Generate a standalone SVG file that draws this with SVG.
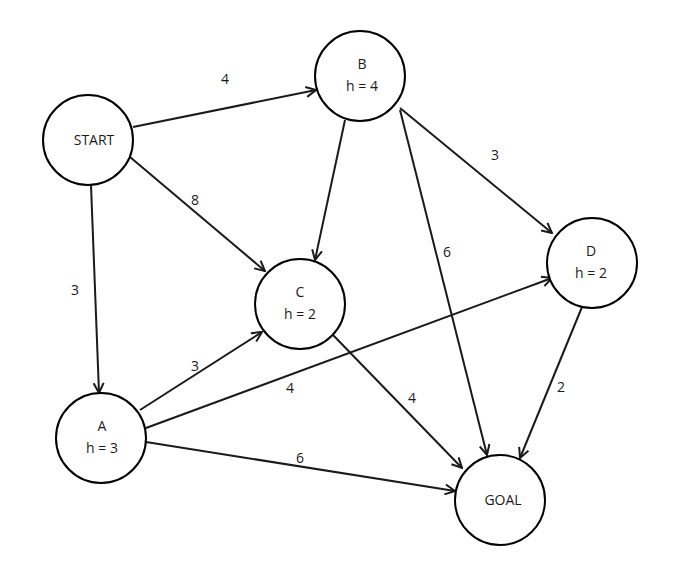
<svg xmlns="http://www.w3.org/2000/svg" width="674" height="561" viewBox="0 0 674 561">
<style>
circle{fill:#fff;stroke:#000;stroke-width:2}
text{font-family:"Open Sans","Liberation Sans",sans-serif;font-size:14px;fill:#1a1a1a;text-anchor:middle}
#edges line{stroke:#1a1a1a;stroke-width:2;marker-end:url(#ah)}
</style>
<defs><marker id="ah" viewBox="0 0 12 12" refX="11" refY="6" markerWidth="12" markerHeight="12" markerUnits="userSpaceOnUse" orient="auto"><polyline points="1,1 11,6 1,11" fill="none" stroke="#1a1a1a" stroke-width="2"/></marker></defs>
<rect width="674" height="561" fill="#fff"/>
<g id="edges">
<line x1="133" y1="127" x2="316" y2="90"/>
<line x1="130" y1="157" x2="265" y2="271"/>
<line x1="91" y1="185" x2="99" y2="393"/>
<line x1="345" y1="120" x2="315" y2="260"/>
<line x1="400" y1="110" x2="487" y2="455"/>
<line x1="400" y1="108" x2="552" y2="233"/>
<line x1="140" y1="410" x2="262" y2="332"/>
<line x1="146" y1="428" x2="552" y2="278"/>
<line x1="146" y1="442" x2="455" y2="491"/>
<line x1="333" y1="335" x2="462" y2="468"/>
<line x1="582" y1="307" x2="520" y2="458"/>
<text x="225" y="84">4</text><text x="195" y="205">8</text><text x="75" y="295">3</text>
<text x="447" y="257">6</text><text x="495" y="160">3</text><text x="195" y="371">3</text>
<text x="290" y="393">4</text><text x="300" y="463">6</text><text x="412" y="403">4</text><text x="561" y="392">2</text>
</g>
<g id="START"><circle cx="88" cy="140" r="45"/><text x="94" y="145">START</text></g>
<g id="B"><circle cx="360" cy="76" r="45"/><text x="362" y="69">B</text><text x="362" y="91">h = 4</text></g>
<g id="C"><circle cx="300" cy="304" r="45"/><text x="300" y="297">C</text><text x="300" y="319">h = 2</text></g>
<g id="D"><circle cx="592" cy="263" r="45"/><text x="591" y="256">D</text><text x="591" y="278">h = 2</text></g>
<g id="A"><circle cx="101" cy="438" r="45"/><text x="102" y="431">A</text><text x="102" y="453">h = 3</text></g>
<g id="GOAL"><circle cx="500" cy="500" r="45"/><text x="503" y="505">GOAL</text></g>
</svg>
